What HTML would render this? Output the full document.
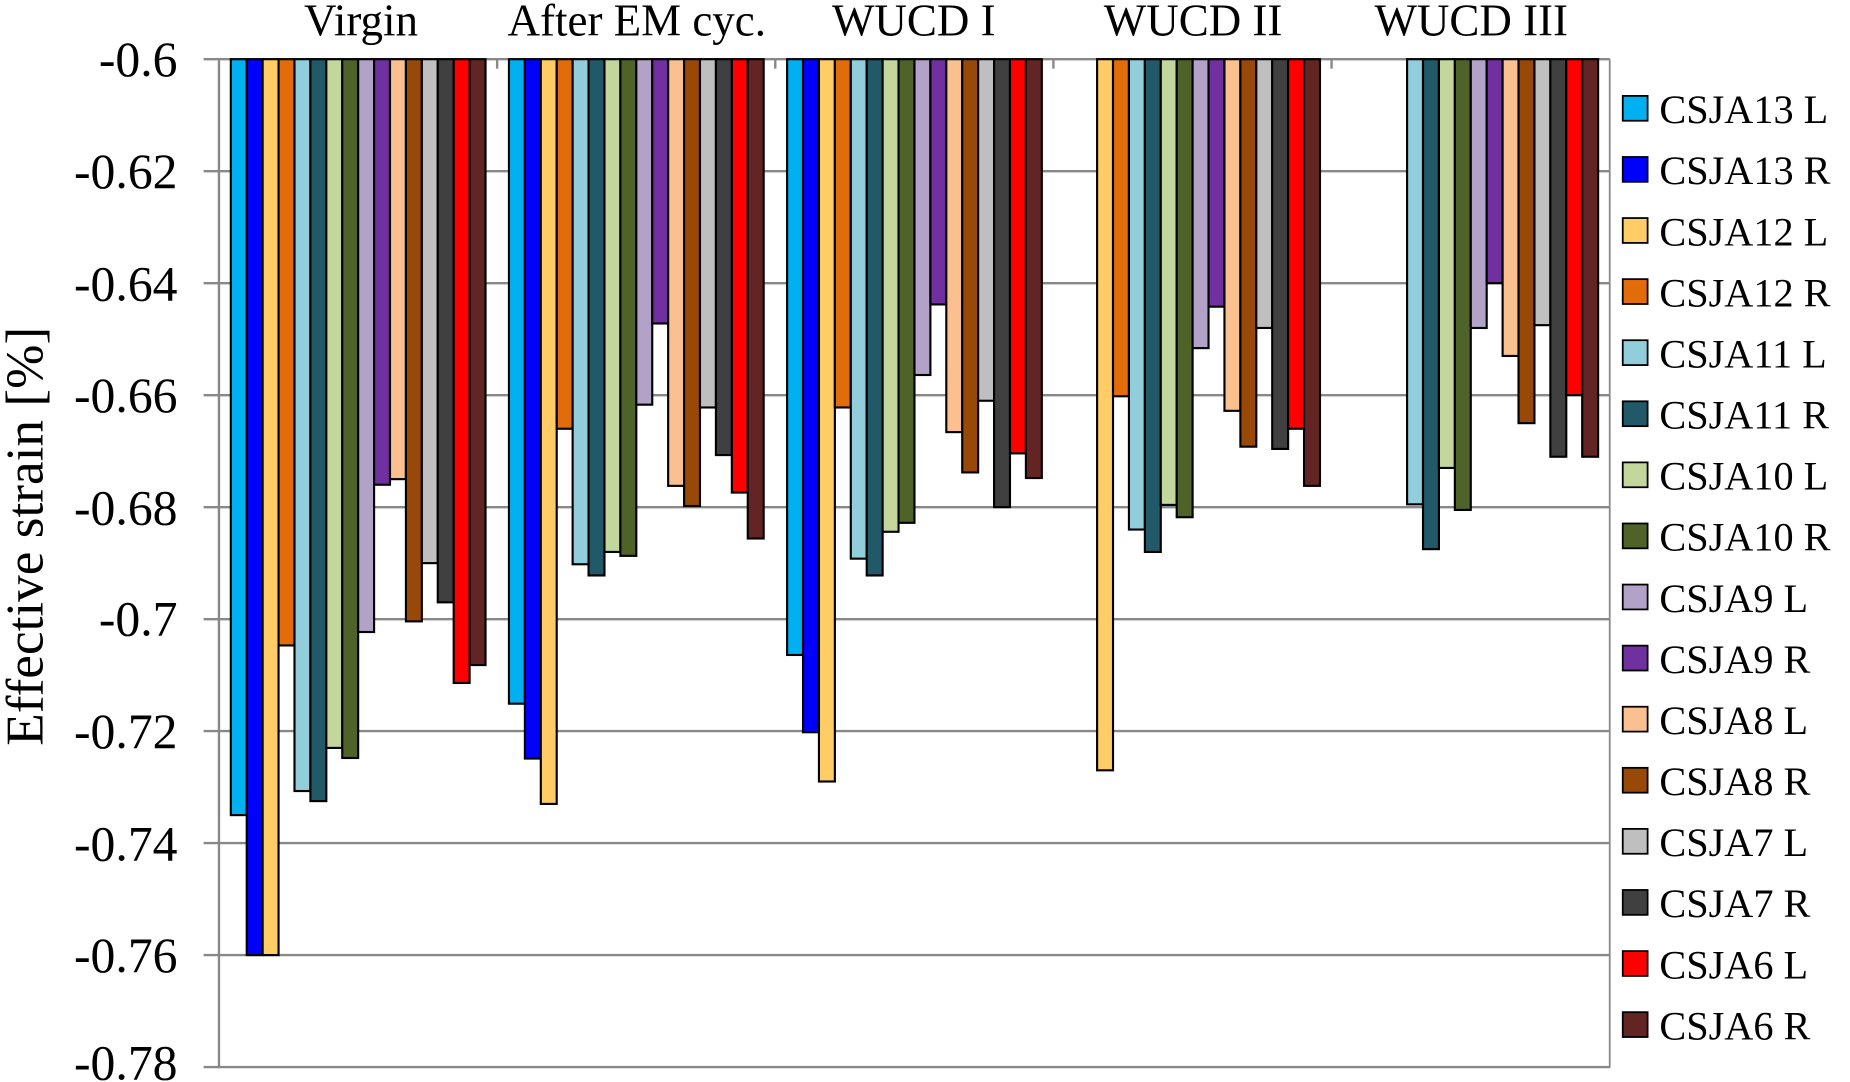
<!DOCTYPE html>
<html><head><meta charset="utf-8"><style>
html,body{margin:0;padding:0;background:#fff;overflow:hidden;}
svg{display:block;font-family:"Liberation Serif",serif;}
</style></head><body>
<svg id="s" width="1850" height="1082" viewBox="0 0 1563 914" preserveAspectRatio="none" xmlns="http://www.w3.org/2000/svg">
<g id="grid"></g>
<g id="bars"></g>
<line x1="185" y1="50" x2="185" y2="902" stroke="#888" stroke-width="2"/>
<line x1="1360" y1="50" x2="1360" y2="902" stroke="#888" stroke-width="1.5"/>
<g font-size="42" text-anchor="end" fill="#000">
<text x="150" y="64">-0.6</text>
<text x="150" y="159">-0.62</text>
<text x="150" y="254">-0.64</text>
<text x="150" y="348">-0.66</text>
<text x="150" y="443">-0.68</text>
<text x="150" y="537">-0.7</text>
<text x="150" y="632">-0.72</text>
<text x="150" y="727">-0.74</text>
<text x="150" y="821">-0.76</text>
<text x="150" y="912">-0.78</text>
</g>
<text transform="translate(36,453) rotate(-90)" font-size="45" text-anchor="middle">Effective strain [%]</text>
<g font-size="38" text-anchor="middle">
<text x="305" y="30">Virgin</text>
<text x="538" y="30">After EM cyc.</text>
<text x="772" y="30">WUCD I</text>
<text x="1008" y="30">WUCD II</text>
<text x="1243" y="30">WUCD III</text>
</g>
<g id="leg"></g>
<g font-size="34">
<text x="1402" y="104">CSJA13 L</text>
<text x="1402" y="155.6">CSJA13 R</text>
<text x="1402" y="207.2">CSJA12 L</text>
<text x="1402" y="258.8">CSJA12 R</text>
<text x="1402" y="310.4">CSJA11 L</text>
<text x="1402" y="362">CSJA11 R</text>
<text x="1402" y="413.6">CSJA10 L</text>
<text x="1402" y="465.2">CSJA10 R</text>
<text x="1402" y="516.8">CSJA9 L</text>
<text x="1402" y="568.4">CSJA9 R</text>
<text x="1402" y="620">CSJA8 L</text>
<text x="1402" y="671.6">CSJA8 R</text>
<text x="1402" y="723.2">CSJA7 L</text>
<text x="1402" y="774.8">CSJA7 R</text>
<text x="1402" y="826.4">CSJA6 L</text>
<text x="1402" y="878">CSJA6 R</text>
</g>
</svg>
<script>
var cols=["#00B0F0","#0000FF","#FFCC66","#E36C0A","#92CDDC","#215968","#C3D69B","#4F6228","#B3A2C7","#7030A0","#FAC090","#984807","#BFBFBF","#404040","#FF0000","#632523"];
var N=null;
var data=[
[-0.735,-0.76,-0.76,-0.7047,-0.7307,-0.7325,-0.723,-0.7248,-0.7023,-0.676,-0.675,-0.7004,-0.690,-0.697,-0.7114,-0.7082],
[-0.7151,-0.7249,-0.733,-0.666,-0.6902,-0.6922,-0.688,-0.6887,-0.6617,-0.6472,-0.6762,-0.6798,-0.6622,-0.6707,-0.6774,-0.6856],
[-0.7064,-0.7202,-0.729,-0.6622,-0.6892,-0.6922,-0.6844,-0.6828,-0.6564,-0.6438,-0.6666,-0.6738,-0.661,-0.68,-0.6704,-0.6748],
[N,N,-0.727,-0.6602,-0.684,-0.688,-0.6796,-0.6818,-0.6516,-0.6442,-0.6628,-0.6692,-0.648,-0.6696,-0.666,-0.6762],
[N,N,N,N,-0.6795,-0.6875,-0.673,-0.6805,-0.648,-0.640,-0.653,-0.665,-0.6475,-0.671,-0.660,-0.671]];
var NS="http://www.w3.org/2000/svg";
function el(t,a,p){var e=document.createElementNS(NS,t);for(var k in a)e.setAttribute(k,a[k]);p.appendChild(e);return e;}
function Y(v){return 50+(-0.6-v)/0.02*94.6;}
var g=document.getElementById("grid");
for(var i=0;i<10;i++){var y=50+i*94.6;el("line",{x1:172,y1:y,x2:1360,y2:y,stroke:"#888","stroke-width":2},g);}
for(var c=1;c<5;c++){var x=185+c*235;el("line",{x1:x,y1:50,x2:x,y2:58,stroke:"#888","stroke-width":2},g);}
var b=document.getElementById("bars");
for(var c=0;c<5;c++)for(var i=0;i<16;i++){var v=data[c][i];if(v===N)continue;
var x=185+c*235+10+i*13.45;el("rect",{x:x,y:50,width:13.45,height:Y(v)-50,fill:cols[i],stroke:"#000","stroke-width":1.8},b);}
var L=document.getElementById("leg");
for(var i=0;i<16;i++){var y=92+i*51.6;el("rect",{x:1371,y:y-11,width:21,height:21,fill:cols[i],stroke:"#000","stroke-width":1.5},L);}
</script>
</body></html>
